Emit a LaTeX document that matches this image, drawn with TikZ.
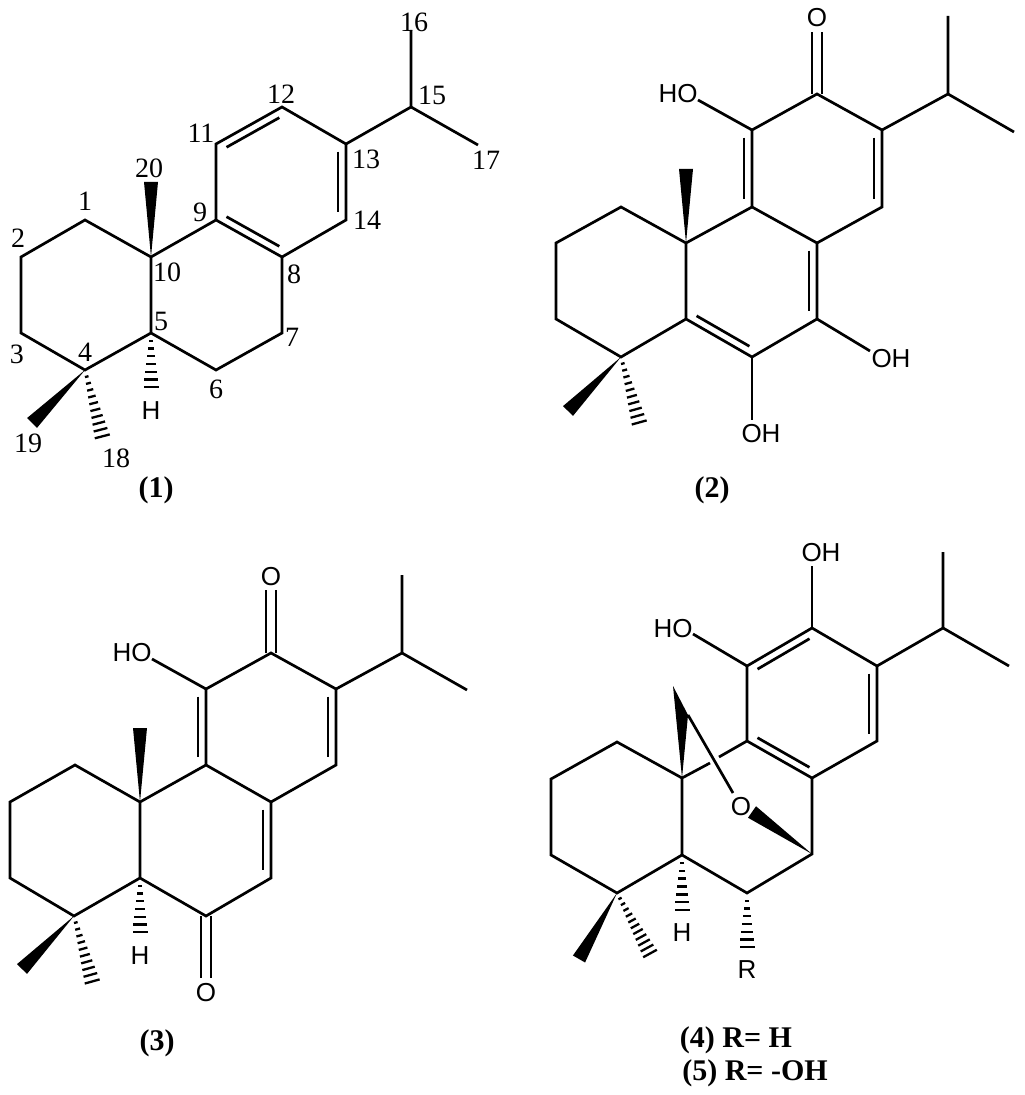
\documentclass[tikz,border=0pt]{standalone}
\usepackage{fontspec}
\setmainfont{Liberation Serif}
\newfontfamily\atomfont{Liberation Sans}
\usetikzlibrary{calc}

\newcommand{\dblin}[3]{\draw[bond] ($(#1)!0.1!(#2)!4pt!#3:(#2)$) -- ($(#2)!0.1!(#1)!4pt!-#3:(#1)$);}
\newcommand{\cobond}[2]{
  \draw[bond] ($(#1)!2.5pt!90:(#2)$) -- ($(#2)!2.5pt!-90:(#1)$);
  \draw[bond] ($(#1)!2.5pt!-90:(#2)$) -- ($(#2)!2.5pt!90:(#1)$);
}
\newcommand{\wedgeb}[2]{\fill ($(#2)!3.5pt!90:(#1)$) -- ($(#2)!3.5pt!-90:(#1)$) -- (#1) -- cycle;}
\newcommand{\hashb}[3]{
  \foreach \i in {1,...,#3}{
    \pgfmathsetmacro{\t}{\i/#3}
    \pgfmathsetmacro{\hw}{0.6+\t*3.6}
    \draw[hash] ($(#1)!\t!(#2)!\hw pt!90:(#2)$) -- ($(#1)!\t!(#2)!\hw pt!-90:(#2)$);
  }
}

\begin{document}
\begin{tikzpicture}
[
x=0.5pt,y=-0.5pt,
bond/.style={line width=1.35pt},
hash/.style={line width=1.15pt},
num/.style={font=\fontsize{14}{14}\selectfont,inner sep=0pt},
atomlab/.style={font=\atomfont\fontsize{13}{13}\selectfont,inner sep=0pt},
capt/.style={font=\bfseries\fontsize{15}{15}\selectfont,inner sep=0pt},
]
\useasboundingbox (0,0) rectangle (1024,1095);

%Structure 1: place the atoms
\coordinate (a1) at (85,220);
\coordinate (a2) at (21,257);
\coordinate (a3) at (21,333);
\coordinate (a4) at (85,370);
\coordinate (a5) at (151,333);
\coordinate (a6) at (216,370);
\coordinate (a7) at (282,333);
\coordinate (a8) at (282,257);
\coordinate (a9) at (216,220);
\coordinate (a10) at (151,257);
\coordinate (a11) at (216,144);
\coordinate (a12) at (282,107);
\coordinate (a13) at (346,144);
\coordinate (a14) at (346,220);
\coordinate (a15) at (411,107);
\coordinate (a16) at (411,30);
\coordinate (a17) at (478,145);
\coordinate (a18) at (104,443);
\coordinate (a19) at (32,423);
\coordinate (a20) at (151,182);
\coordinate (ah) at (151,395);

%Structure 1: draw the bonds
\draw[bond] (a10) -- (a1) -- (a2) -- (a3) -- (a4) -- (a5) -- (a6) -- (a7) -- (a8) -- (a9) -- (a10) -- (a5);
\draw[bond] (a9) -- (a11) -- (a12) -- (a13) -- (a14) -- (a8);
\draw[bond] (a13) -- (a15) -- (a16);
\draw[bond] (a15) -- (a17);
\dblin{a11}{a12}{-90}
\dblin{a13}{a14}{-90}
\dblin{a9}{a8}{90}
\wedgeb{a10}{a20}
\wedgeb{a4}{a19}
\hashb{a4}{a18}{11}
\hashb{a5}{ah}{8}

%Structure 1: the labels
\node[num] (n1) at (85,201) {1};
\node[num] (n2) at (18,238) {2};
\node[num] (n3) at (17,354) {3};
\node[num] (n4) at (85,352) {4};
\node[num] (n5) at (161,321) {5};
\node[num] (n6) at (216,389) {6};
\node[num] (n7) at (292,337) {7};
\node[num] (n8) at (294,274) {8};
\node[num] (n9) at (200,212) {9};
\node[num] (n10) at (167,272) {10};
\node[num] (n11) at (201,133) {11};
\node[num] (n12) at (281,94) {12};
\node[num] (n13) at (366,159) {13};
\node[num] (n14) at (367,220) {14};
\node[num] (n15) at (432,95) {15};
\node[num] (n16) at (414,22) {16};
\node[num] (n17) at (486,160) {17};
\node[num] (n18) at (116,458) {18};
\node[num] (n19) at (28,443) {19};
\node[num] (n20) at (149,168) {20};
\node[atomlab] (hA) at (151,411) {H};
\node[capt] (cap1) at (156,490) {(1)};

%Structure 2: place the atoms
\coordinate (b1) at (621,207);
\coordinate (b2) at (556,243);
\coordinate (b3) at (556,319);
\coordinate (b4) at (621,357);
\coordinate (b5) at (686,319);
\coordinate (b6) at (752,357);
\coordinate (b7) at (817,319);
\coordinate (b8) at (817,243);
\coordinate (b9) at (752,207);
\coordinate (b10) at (686,243);
\coordinate (b11) at (752,130);
\coordinate (b12) at (817,94);
\coordinate (b13) at (882,130);
\coordinate (b14) at (882,207);
\coordinate (b15) at (948,94);
\coordinate (b16) at (948,16);
\coordinate (b17) at (1014,132);
\coordinate (b18) at (641,429);
\coordinate (b19) at (568,411);
\coordinate (b20) at (686,169);
\coordinate (bo) at (817,32);
\coordinate (bho) at (698,100);
\coordinate (boha) at (870,351);
\coordinate (bohb) at (752,420);

%Structure 2: draw the bonds
\draw[bond] (b10) -- (b1) -- (b2) -- (b3) -- (b4) -- (b5) -- (b6) -- (b7) -- (b8) -- (b9) -- (b10) -- (b5);
\draw[bond] (b9) -- (b11) -- (b12) -- (b13) -- (b14) -- (b8);
\draw[bond] (b13) -- (b15) -- (b16);
\draw[bond] (b15) -- (b17);
\draw[bond] (b11) -- (bho);
\draw[bond] (b7) -- (boha);
\draw[bond] (b6) -- (bohb);
\dblin{b11}{b9}{-90}
\dblin{b13}{b14}{-90}
\dblin{b8}{b7}{-90}
\dblin{b5}{b6}{90}
\cobond{b12}{bo}
\wedgeb{b10}{b20}
\wedgeb{b4}{b19}
\hashb{b4}{b18}{11}

%Structure 2: the labels
\node[atomlab] (oB) at (817,18) {O};
\node[atomlab] (hoB) at (678,94) {HO};
\node[atomlab] (ohBa) at (891,359) {OH};
\node[atomlab] (ohBb) at (761,434) {OH};
\node[capt] (cap2) at (712,490) {(2)};

%Structure 3: place the atoms
\coordinate (c1) at (75,765);
\coordinate (c2) at (10,802);
\coordinate (c3) at (10,878);
\coordinate (c4) at (74,916);
\coordinate (c5) at (140,878);
\coordinate (c6) at (206,916);
\coordinate (c7) at (271,878);
\coordinate (c8) at (271,802);
\coordinate (c9) at (206,765);
\coordinate (c10) at (140,802);
\coordinate (c11) at (206,689);
\coordinate (c12) at (271,653);
\coordinate (c13) at (336,689);
\coordinate (c14) at (336,765);
\coordinate (c15) at (402,653);
\coordinate (c16) at (402,575);
\coordinate (c17) at (467,690);
\coordinate (c18) at (94,988);
\coordinate (c19) at (22,969);
\coordinate (c20) at (140,728);
\coordinate (ch) at (140,940);
\coordinate (coa) at (271,590);
\coordinate (cob) at (206,978);
\coordinate (cho) at (152,659);

%Structure 3: draw the bonds
\draw[bond] (c10) -- (c1) -- (c2) -- (c3) -- (c4) -- (c5) -- (c6) -- (c7) -- (c8) -- (c9) -- (c10) -- (c5);
\draw[bond] (c9) -- (c11) -- (c12) -- (c13) -- (c14) -- (c8);
\draw[bond] (c13) -- (c15) -- (c16);
\draw[bond] (c15) -- (c17);
\draw[bond] (c11) -- (cho);
\dblin{c11}{c9}{-90}
\dblin{c13}{c14}{-90}
\dblin{c8}{c7}{-90}
\cobond{c12}{coa}
\cobond{c6}{cob}
\wedgeb{c10}{c20}
\wedgeb{c4}{c19}
\hashb{c4}{c18}{11}
\hashb{c5}{ch}{8}

%Structure 3: the labels
\node[atomlab] (oCa) at (271,577) {O};
\node[atomlab] (oCb) at (206,993) {O};
\node[atomlab] (hoC) at (132,653) {HO};
\node[atomlab] (hC) at (140,956) {H};
\node[capt] (cap3) at (157,1043) {(3)};

%Structure 4: place the atoms
\coordinate (d1) at (617,742);
\coordinate (d2) at (551,779);
\coordinate (d3) at (551,855);
\coordinate (d4) at (617,893);
\coordinate (d5) at (682,855);
\coordinate (d6) at (747,893);
\coordinate (d7) at (812,854);
\coordinate (d8) at (812,778);
\coordinate (d9) at (747,741);
\coordinate (d10) at (682,778);
\coordinate (d11) at (747,666);
\coordinate (d12) at (812,628);
\coordinate (d13) at (877,666);
\coordinate (d14) at (877,741);
\coordinate (d15) at (943,628);
\coordinate (d16) at (943,552);
\coordinate (d17) at (1009,666);
\coordinate (d18) at (653,959);
\coordinate (d19) at (579,959);
\coordinate (d20) at (673,686);
\coordinate (dbr) at (688,715);
\coordinate (dgapa) at (710,763);
\coordinate (dgapb) at (719,757);
\coordinate (dob) at (733,793);
\coordinate (dow) at (752,812);
\coordinate (dh) at (682,918);
\coordinate (dr) at (747,955);
\coordinate (doh) at (812,566);
\coordinate (dho) at (693,634);

%Structure 4: draw the bonds
\draw[bond] (d10) -- (d1) -- (d2) -- (d3) -- (d4) -- (d5) -- (d6) -- (d7) -- (d8);
\draw[bond] (d5) -- (d10) -- (dgapa);
\draw[bond] (dgapb) -- (d9) -- (d11) -- (d12) -- (d13) -- (d14) -- (d8) -- (d9);
\draw[bond] (d13) -- (d15) -- (d16);
\draw[bond] (d15) -- (d17);
\draw[bond] (d12) -- (doh);
\draw[bond] (d11) -- (dho);
\draw[bond] (dbr) -- (dob);
\dblin{d11}{d12}{-90}
\dblin{d13}{d14}{-90}
\dblin{d9}{d8}{90}
\fill (d10) -- (d20) -- (dbr) -- cycle;
\wedgeb{d4}{d19}
\wedgeb{d7}{dow}
\hashb{d4}{d18}{12}
\hashb{d5}{dh}{8}
\hashb{d6}{dr}{8}

%Structure 4: the labels
\node[atomlab] (oD) at (741,807) {O};
\node[atomlab] (ohD) at (821,553) {OH};
\node[atomlab] (hoD) at (673,629) {HO};
\node[atomlab] (hD) at (682,933) {H};
\node[atomlab] (rD) at (747,970) {R};
\node[capt] (cap4) at (736,1040) {(4) R= H};
\node[capt] (cap5) at (755,1073) {(5) R= -OH};
\end{tikzpicture}
\end{document}
